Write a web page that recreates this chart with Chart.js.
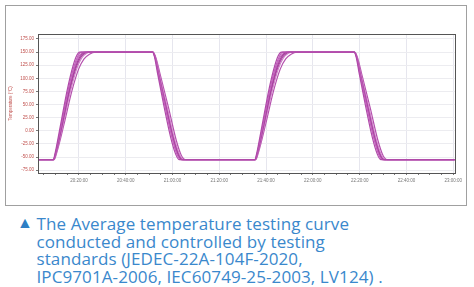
<!DOCTYPE html>
<html><head><meta charset="utf-8">
<script src="https://cdn.jsdelivr.net/npm/chart.js@4"></script>
<style>
html,body{margin:0;padding:0;background:#fff;width:474px;height:287px;overflow:hidden;}
#box{position:absolute;left:5px;top:5px;width:460px;height:199px;border:1px solid #a0a0a0;}
#wrap{position:absolute;left:6px;top:6px;width:459px;height:199px;}
#cap{position:absolute;left:17px;top:215px;font-family:"Open Sans",sans-serif;font-size:17px;line-height:17.7px;color:#3a88cc;white-space:nowrap;letter-spacing:0.1px;}
#cap .tri{position:absolute;left:0;top:-1px;font-size:16px;color:#2f7fc4;}
#cap .txt{position:absolute;left:19.5px;top:0;}
</style></head>
<body>
<div id="box"></div>
<div id="wrap"><canvas id="c" width="459" height="199"></canvas></div>
<div id="cap"><span class="tri">▲</span><div class="txt">The Average temperature testing curve<br>conducted and controlled by testing<br>standards (JEDEC-22A-104F-2020,<br>IPC9701A-2006, IEC60749-25-2003, LV124) .</div></div>
<script>
// time in minutes after 20:00, temperature in °C
const yTicks = [175,150,125,100,75,50,25,0,-25,-50,-75];
const xLabels = ["20:20:00","20:40:00","21:00:00","21:20:00","21:40:00","22:00:00","22:20:00","22:40:00","23:00:00"];
const xLabelTimes = [20,40,60,80,100,120,140,160,180];
const xMinorTimes = [5,10,15,25,30,35,45,50,55,65,70,75,85,90,95,105,110,115,125,130,135,145,150,155,165,170,175];

const sensorA = [[2.5,-55],[9,-55],[9.6,-47],[12,8],[15,78],[17.5,124],[19,143],[20.3,150],[51.4,150],[52.3,141],[53.5,112],[56.3,48],[59.3,-14],[61.3,-44],[62.8,-55],
 [95.2,-55],[95.8,-47],[98.2,8],[101.2,78],[103.7,124],[105.2,143],[106.5,150],[137.6,150],[138.5,141],[139.7,112],[142.5,48],[145.5,-14],[147.5,-44],[149,-55],[180.7,-55]];
const sensorB = [[2.5,-55],[9.1,-55],[9.8,-46],[12.3,8],[15.4,78],[18,124],[19.6,143],[21,150],[51.5,150],[52.5,140],[53.8,111],[56.8,47],[59.9,-15],[61.9,-45],[63.5,-55],
 [95.3,-55],[96,-46],[98.5,8],[101.6,78],[104.2,124],[105.8,143],[107.2,150],[137.7,150],[138.7,140],[140,111],[143,47],[146.1,-15],[148.1,-45],[149.7,-55],[180.7,-55]];
const sensorC = [[2.5,-55],[9.2,-55],[10,-45],[12.7,8],[15.9,77],[18.6,122],[20.4,141],[22.3,149],[23.5,150],[51.5,150],[52.6,140],[54,110],[57.2,46],[60.4,-16],[62.5,-46],[64.2,-55],
 [95.4,-55],[96.2,-45],[98.9,8],[102.1,77],[104.8,122],[106.6,141],[108.5,149],[109.7,150],[137.7,150],[138.8,140],[140.2,110],[143.4,46],[146.6,-16],[148.7,-46],[150.4,-55],[180.7,-55]];
const sensorD = [[2.5,-55],[9.3,-55],[10.2,-44],[13.1,10],[16.4,76],[19.2,120],[21.2,139],[23.3,148],[25,150],[51.6,150],[52.8,139],[54.3,109],[57.7,45],[60.9,-17],[63.1,-46],[64.9,-55],
 [95.5,-55],[96.4,-44],[99.3,10],[102.6,76],[105.4,120],[107.4,139],[109.5,148],[111.2,150],[137.8,150],[139,139],[140.5,109],[143.9,45],[147.1,-17],[149.3,-46],[151.1,-55],[180.7,-55]];
const sensorE = [[2.5,-55],[9.4,-55],[10.5,-42],[13.6,12],[17,76],[19.9,118],[22.2,137],[24.5,146],[27,150],[51.7,150],[53,138],[54.7,108],[58.3,44],[61.6,-18],[63.8,-47],[65.8,-55],
 [95.6,-55],[96.7,-42],[99.8,12],[103.2,76],[106.1,118],[108.4,137],[110.7,146],[113.2,150],[137.9,150],[139.2,138],[140.9,108],[144.5,44],[147.8,-18],[150,-47],[152,-55],[180.7,-55]];
const sensorF = [[2.5,-55],[9.1,-55],[9.9,-45],[12.5,9],[15.7,78],[18.3,123],[20,142],[21.7,149],[22.5,150],[51.5,150],[52.6,140],[53.9,111],[57,47],[60.1,-15],[62.2,-45],[63.8,-55],
 [95.3,-55],[96.1,-45],[98.7,9],[101.9,78],[104.5,123],[106.2,142],[107.9,149],[108.7,150],[137.7,150],[138.8,140],[140.1,111],[143.2,47],[146.3,-15],[148.4,-45],[150,-55],[180.7,-55]];
const sensorG = [[2.5,-55],[9.2,-55],[10.1,-44],[12.9,9],[16.1,77],[18.9,121],[20.8,140],[22.8,148],[24.2,150],[51.6,150],[52.7,139],[54.1,110],[57.4,46],[60.6,-16],[62.8,-46],[64.5,-55],
 [95.4,-55],[96.3,-44],[99.1,9],[102.3,77],[105.1,121],[107,140],[109,148],[110.4,150],[137.8,150],[138.9,139],[140.3,110],[143.6,46],[146.8,-16],[149,-46],[150.7,-55],[180.7,-55]];

const sensors = [sensorA,sensorB,sensorC,sensorD,sensorE,sensorF,sensorG];
const colors = ['#b04aa9','#c25fbc','#a8439f','#cf80c9','#b552ae','#c46abf','#a9479f'];

const frame = {
  id:'frame',
  afterDatasetsDraw(chart){
    const a = chart.chartArea, ctx = chart.ctx;
    ctx.save();
    ctx.strokeStyle = '#555';
    ctx.lineWidth = 1;
    ctx.strokeRect(Math.round(a.left)+0.5, Math.round(a.top)+0.5, Math.round(a.right-a.left), Math.round(a.bottom-a.top));
    ctx.restore();
  }
};

new Chart(document.getElementById('c'), {
  type:'line',
  data:{ datasets: sensors.map((s,i)=>({
    data: s.map(p=>({x:p[0], y:p[1]})),
    borderColor: colors[i],
    borderWidth: 1.2,
    pointRadius: 0,
    cubicInterpolationMode: 'monotone',
    fill:false
  }))},
  options:{
    responsive:false, animation:false,
    layout:{padding:{left:0, top:28, right:10, bottom:18}},
    plugins:{legend:{display:false}, tooltip:{enabled:false}},
    scales:{
      x:{
        type:'linear', min:2.5, max:180.7,
        afterBuildTicks(sc){
          const all = xLabelTimes.map(v=>({value:v})).concat(xMinorTimes.map(v=>({value:v})));
          all.sort((a,b)=>a.value-b.value);
          sc.ticks = all;
        },
        afterFit(sc){ sc.height = 14; },
        border:{display:false},
        grid:{
          color:(c)=> (c.tick && xLabelTimes.includes(c.tick.value)) ? '#e6e6ee' : 'rgba(0,0,0,0)',
          tickColor:'#777', tickLength:2, drawTicks:true
        },
        ticks:{
          autoSkip:false, maxRotation:0, padding:3,
          color:'#777', font:{family:'Arial', size:4.5},
          callback:(v)=>{ const k = xLabelTimes.indexOf(v); return k>=0 ? xLabels[k] : ''; }
        }
      },
      y:{
        min:-80.5, max:184.5,
        afterBuildTicks(sc){ sc.ticks = yTicks.map(v=>({value:v})); },
        afterFit(sc){ sc.width = 32; },
        border:{display:false},
        grid:{ color:'#ececf0', tickColor:'#777', tickLength:2 },
        ticks:{ color:'#c0504d', padding:2, font:{family:'Arial', size:4.5},
          callback:(v)=> Number(v).toFixed(2) },
        title:{ display:true, text:'Temperature (°C)', color:'#c0504d', font:{family:'Arial', size:4.5}, padding:{top:2, bottom:0} }
      }
    }
  },
  plugins:[frame]
});
</script>
</body></html>
